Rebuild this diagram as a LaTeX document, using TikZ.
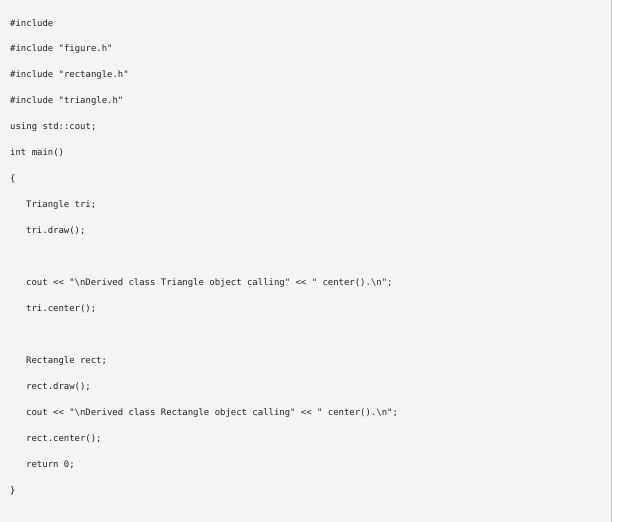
\documentclass[tikz,border=0pt]{standalone}
\usepackage{fontspec}
\setmonofont{DejaVu Sans Mono}
\definecolor{bg}{HTML}{F4F4F4}
\definecolor{edge}{HTML}{C8C8C8}
\definecolor{txt}{HTML}{222222}
\begin{document}
\begin{tikzpicture}[x=1pt,y=-1pt,
  codeline/.style={anchor=west,inner sep=0pt,font=\ttfamily\fontsize{8.95}{11}\selectfont,text=txt}]
\useasboundingbox (0,0) rectangle (641,522);
\fill[bg] (0,0) rectangle (611,522);
\draw[edge,line width=1pt] (611,0) -- (611,522);
\node[codeline] (l1) at (10,23) {\#include};
\node[codeline] (l2) at (10,49) {\#include "figure.h"};
\node[codeline] (l3) at (10,75) {\#include "rectangle.h"};
\node[codeline] (l4) at (10,101) {\#include "triangle.h"};
\node[codeline] (l5) at (10,127) {using std::cout;};
\node[codeline] (l6) at (10,153) {int main()};
\node[codeline] (l7) at (10,179) {\{};
\node[codeline] (l8) at (26,205) {Triangle tri;};
\node[codeline] (l9) at (26,231) {tri.draw();};
\node[codeline] (l10) at (26,283) {cout << "\textbackslash nDerived class Triangle object calling" << " center().\textbackslash n";};
\node[codeline] (l11) at (26,309) {tri.center();};
\node[codeline] (l12) at (26,361) {Rectangle rect;};
\node[codeline] (l13) at (26,387) {rect.draw();};
\node[codeline] (l14) at (26,413) {cout << "\textbackslash nDerived class Rectangle object calling" << " center().\textbackslash n";};
\node[codeline] (l15) at (26,439) {rect.center();};
\node[codeline] (l16) at (26,465) {return 0;};
\node[codeline] (l17) at (10,491) {\}};
\end{tikzpicture}
\end{document}
